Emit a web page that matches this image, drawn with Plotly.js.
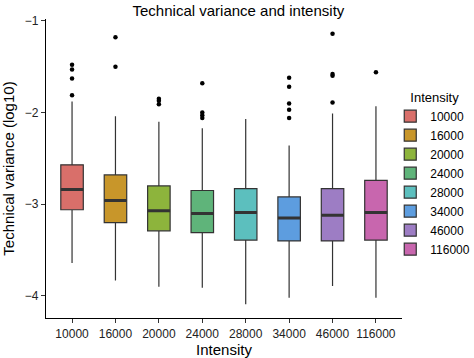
<!DOCTYPE html>
<html>
<head>
<meta charset="utf-8">
<script src="https://cdn.plot.ly/plotly-3.0.1.min.js"></script>
<style>html,body{margin:0;padding:0;background:#fff;}#chart{width:474px;height:358px;}</style>
</head>
<body>
<div id="chart"></div>
<script>
// Categories (Intensity)
const categories = ["10000","16000","20000","24000","28000","34000","46000","116000"];
// Box statistics (log10 technical variance)
const q1Values     = [-3.06, -3.20, -3.29, -3.31, -3.39, -3.40, -3.40, -3.39];
const medianValues = [-2.84, -2.96, -3.07, -3.10, -3.09, -3.15, -3.12, -3.09];
const q3Values     = [-2.57, -2.68, -2.80, -2.85, -2.83, -2.92, -2.83, -2.74];
const lowerWhisker = [-3.64, -3.83, -3.90, -3.91, -4.09, -4.02, -3.89, -4.02];
const upperWhisker = [-1.88, -2.04, -2.10, -2.17, -2.07, -2.36, -2.01, -1.93];
// Outliers per category
const outliers = [
  [-1.48, -1.53, -1.63, -1.81],
  [-1.18, -1.50],
  [-1.85, -1.87, -1.91],
  [-1.68, -2.00, -2.03, -2.06],
  [],
  [-1.62, -1.72, -1.90, -1.97, -2.06],
  [-1.14, -1.58, -1.60, -1.89],
  [-1.56]
];
const colors = ["#d96f6a","#c8962a","#8db43c","#5fb47a","#5cbfbe","#5d9ddf","#9d7dc4","#c866ae"];

const traces = [];
categories.forEach((c, i) => {
  traces.push({
    type: "box",
    name: c,
    x: [c],
    q1: [q1Values[i]],
    median: [medianValues[i]],
    q3: [q3Values[i]],
    lowerfence: [lowerWhisker[i]],
    upperfence: [upperWhisker[i]],
    fillcolor: colors[i],
    line: {color: "#333333", width: 1.2},
    whiskerwidth: 0,
    hoverinfo: "skip"
  });
});
// thick median lines
categories.forEach((c, i) => {
  traces.push({
    type: "box",
    name: c,
    x: [c],
    q1: [medianValues[i]],
    median: [medianValues[i]],
    q3: [medianValues[i]],
    lowerfence: [medianValues[i]],
    upperfence: [medianValues[i]],
    fillcolor: "rgba(0,0,0,0)",
    line: {color: "#333333", width: 3},
    showlegend: false,
    hoverinfo: "skip"
  });
});
// outliers
const ox = [], oy = [];
categories.forEach((c, i) => outliers[i].forEach(v => { ox.push(c); oy.push(v); }));
traces.push({
  type: "scatter", mode: "markers", x: ox, y: oy,
  marker: {color: "#000000", size: 4.5},
  showlegend: false, hoverinfo: "skip"
});

const font = "Liberation Sans, Arial, sans-serif";
const layout = {
  width: 474, height: 358,
  margin: {l: 46, r: 72, t: 19, b: 40, autoexpand: false},
  paper_bgcolor: "#ffffff", plot_bgcolor: "#ffffff",
  font: {family: font, size: 12, color: "#333333"},
  boxmode: "overlay",
  boxgap: 0.26,
  showlegend: true,
  title: {text: "Technical variance and intensity", x: 0.503, xref: "container", xanchor: "center", y: 0.985, yanchor: "top",
          font: {family: font, size: 15, color: "#000000"}},
  xaxis: {
    type: "category",
    categoryorder: "array", categoryarray: categories,
    range: [-0.6, 7.6],
    showline: true, linecolor: "#000000", linewidth: 1.2,
    ticks: "outside", ticklen: 4, tickcolor: "#333333", tickwidth: 1,
    showgrid: false, zeroline: false,
    tickfont: {size: 12, color: "#222222"},
    title: {text: "Intensity", font: {size: 15, color: "#000000"}, standoff: 2}
  },
  yaxis: {
    range: [-4.24, -0.98],
    tickvals: [-4, -3, -2, -1],
    showline: true, linecolor: "#000000", linewidth: 1.2,
    ticks: "outside", ticklen: 4, tickcolor: "#333333", tickwidth: 1,
    showgrid: false, zeroline: false,
    tickfont: {size: 12, color: "#222222"},
    title: {text: "Technical variance (log10)", font: {size: 15, color: "#000000"}, standoff: 6}
  },
  legend: {
    x: 0.967, xanchor: "left", y: 0.78, yanchor: "top",
    font: {size: 12, color: "#000000"},
    title: {text: "\u00a0\u00a0\u00a0\u00a0\u00a0Intensity", font: {size: 13, color: "#000000"}},
    tracegroupgap: 0,
    itemwidth: 30,
    bgcolor: "rgba(0,0,0,0)"
  }
};
Plotly.newPlot("chart", traces, layout, {displayModeBar: false, staticPlot: true});
</script>
</body>
</html>
